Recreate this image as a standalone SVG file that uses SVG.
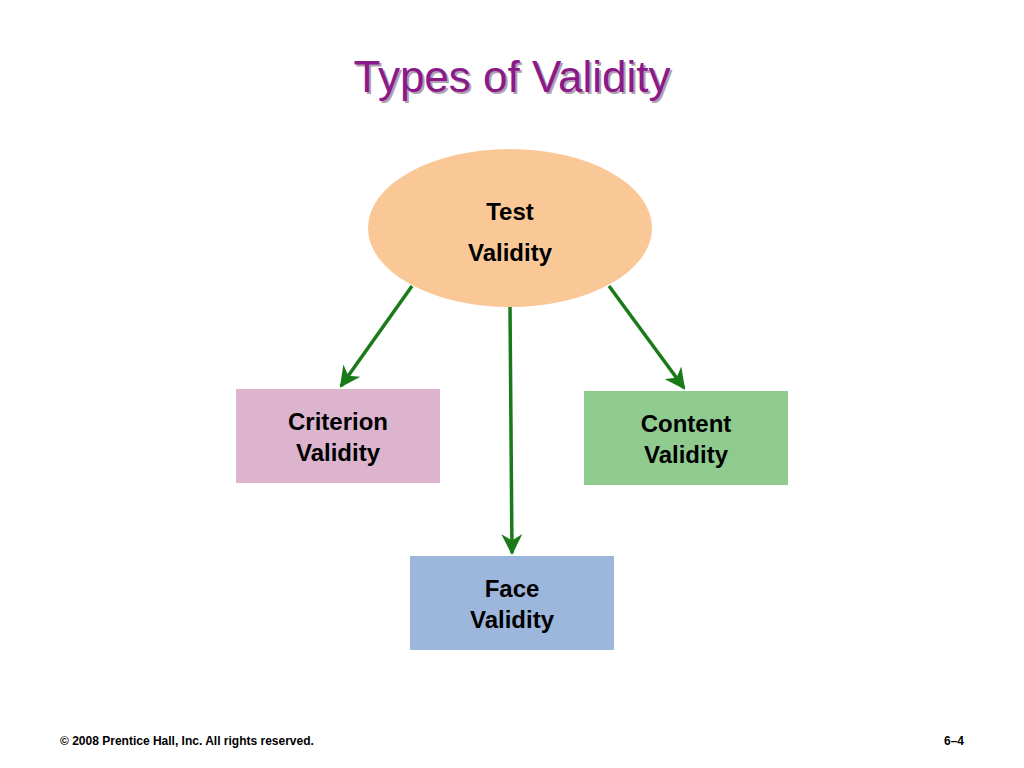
<svg xmlns="http://www.w3.org/2000/svg" width="1024" height="768" viewBox="0 0 1024 768">
<style>
.t{font-family:"Liberation Sans",Arial,sans-serif;font-weight:bold;font-size:24px;fill:#000;text-anchor:middle}
.c{stroke:#1a7a1a;stroke-width:3.5;fill:none;marker-end:url(#ah)}
</style>
<defs>
<marker id="ah" viewBox="0 0 10 10" refX="9" refY="5" markerWidth="6" markerHeight="6" orient="auto" markerUnits="strokeWidth"><path d="M0,0 L10,5 L0,10 L3,5 z" fill="#1a7a1a"/></marker>
</defs>
<rect width="1024" height="768" fill="#fff"/>
<text x="512" y="92" font-family="Liberation Sans,Arial,sans-serif" font-size="44" fill="#b0a0b0" text-anchor="middle" transform="translate(2,2)">Types of Validity</text>
<text x="512" y="92" font-family="Liberation Sans,Arial,sans-serif" font-size="44" fill="#8a1a8a" text-anchor="middle">Types of Validity</text>
<g id="connectors">
<line class="c" x1="412" y1="286" x2="341" y2="386"/>
<line class="c" x1="510" y1="306" x2="512" y2="553"/>
<line class="c" x1="609" y1="286" x2="684" y2="388"/>
</g>
<g id="test"><ellipse cx="510" cy="228" rx="142" ry="79" fill="#f9c896"/>
<text class="t" x="510" y="220" font-size="32">Test</text><text class="t" x="510" y="261" font-size="32">Validity</text></g>
<g id="criterion"><rect x="236" y="389" width="204" height="94" fill="#dcb4cd"/>
<text class="t" x="338" y="430">Criterion</text><text class="t" x="338" y="461">Validity</text></g>
<g id="content"><rect x="584" y="391" width="204" height="94" fill="#8fcb8f"/>
<text class="t" x="686" y="432">Content</text><text class="t" x="686" y="463">Validity</text></g>
<g id="face"><rect x="410" y="556" width="204" height="94" fill="#9db6dc"/>
<text class="t" x="512" y="597">Face</text><text class="t" x="512" y="628">Validity</text></g>
<text x="60" y="745" font-family="Liberation Sans,Arial,sans-serif" font-weight="bold" font-size="12">© 2008 Prentice Hall, Inc. All rights reserved.</text>
<text x="964" y="745" font-family="Liberation Sans,Arial,sans-serif" font-weight="bold" font-size="12" text-anchor="end">6–4</text>
</svg>
